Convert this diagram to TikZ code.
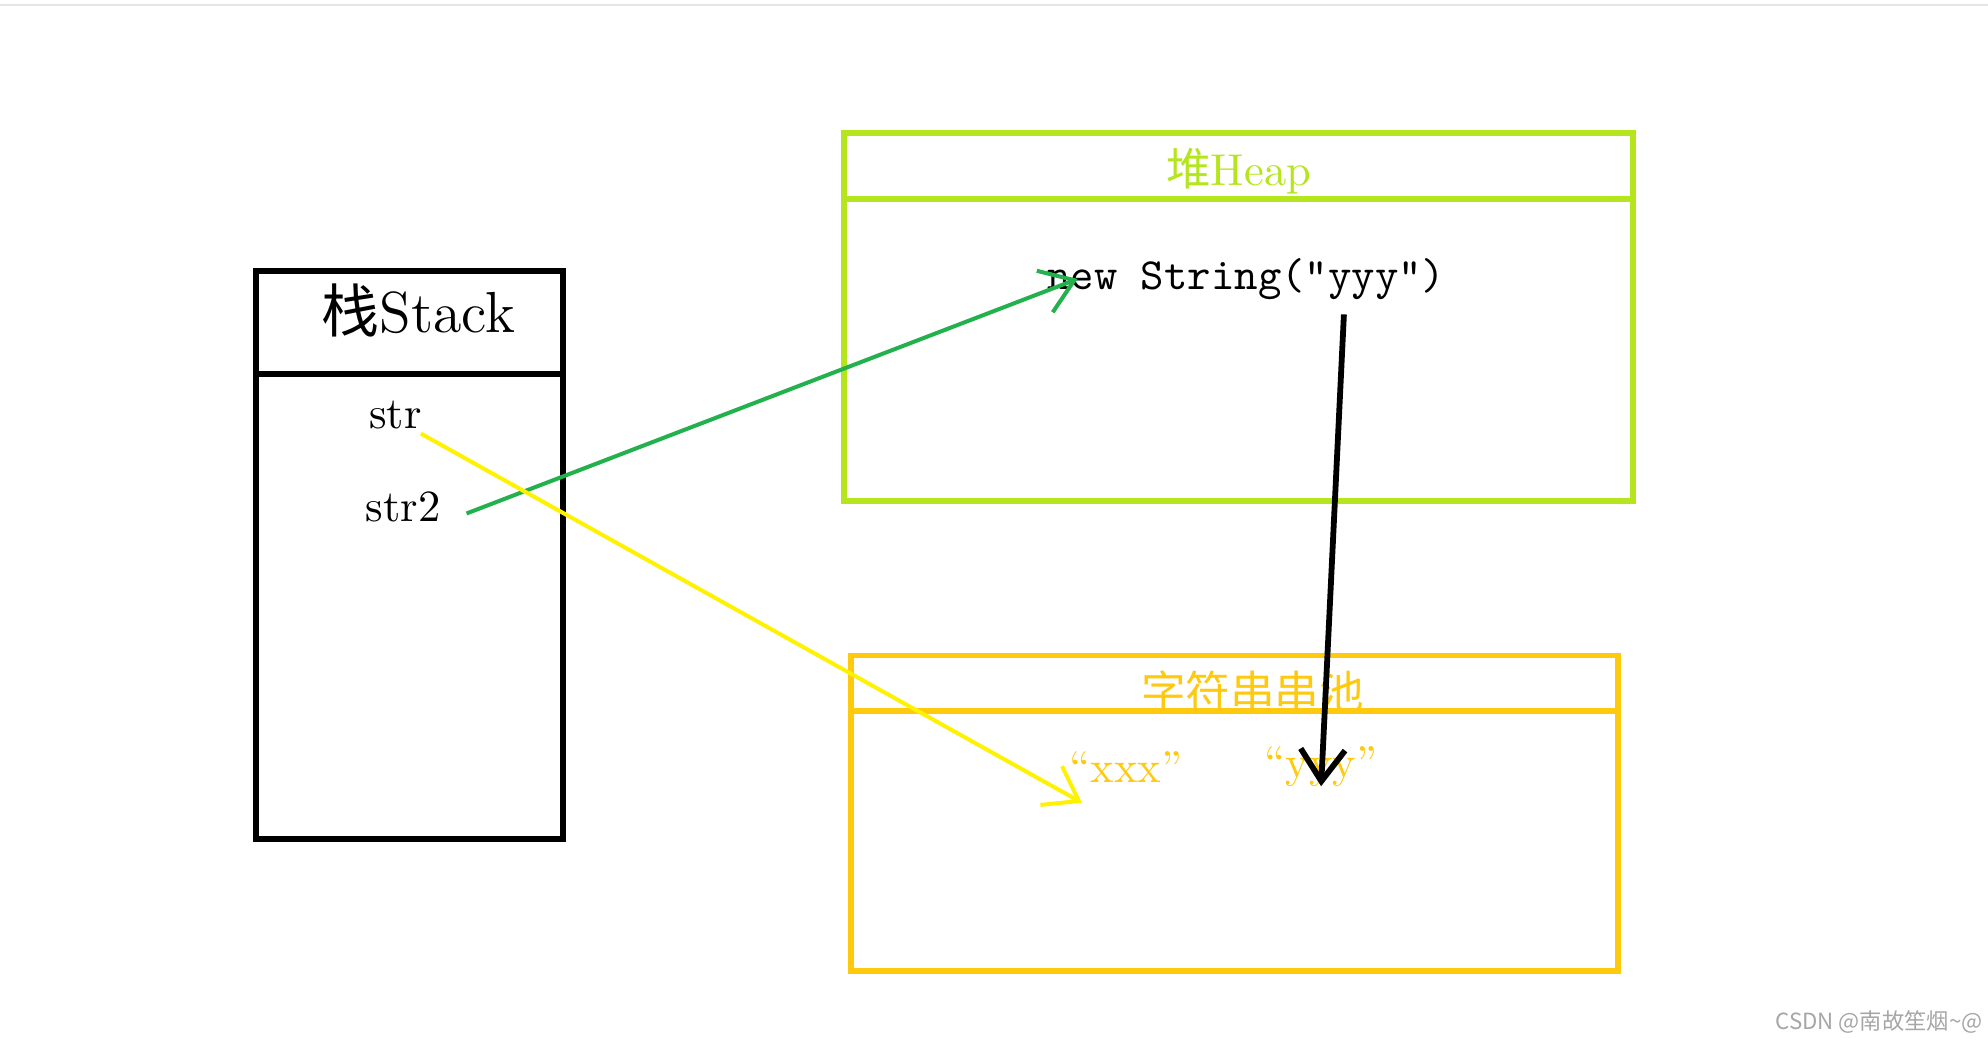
\documentclass[tikz,border=0pt]{standalone}
\usepackage{fontspec}
\newfontfamily\cjk{Noto Sans CJK SC}
\usetikzlibrary{arrows.meta, positioning}
\definecolor{heapgreen}{HTML}{B5E61D}
\definecolor{poolgold}{HTML}{FFC90E}
\definecolor{refgreen}{HTML}{22B14C}
\definecolor{refyellow}{HTML}{FFF200}
\tikzstyle{area} = [line width=1.3pt]
\tikzstyle{label} = [font=\fontsize{10}{12}\selectfont, inner sep=1pt]
\tikzstyle{ref} = [line width=0.9pt, -{Straight Barb[length=2.5mm, width=3.5mm]}]

\begin{document}
\begin{tikzpicture}[x=0.01cm, y=-0.01cm]
    \useasboundingbox (0,0) rectangle (1568,822);
    \draw [gray!20, line width=0.6pt] (0,4) -- (1568,4);

    % Stack.
    \draw [area] (202,214) rectangle (444,662);
    \draw [area] (202,295) -- (444,295);
    \node (stack) [font=\fontsize{13}{15}\selectfont] at (330,245) {{\cjk 栈}Stack};
    \node (str) [label] at (312,327) {str};
    \node (str2) [label] at (318,400) {str2};

    % Heap.
    \draw [area, heapgreen] (666,105) rectangle (1288,395);
    \draw [area, heapgreen] (666,157) -- (1288,157);
    \node (heap) [label, text=heapgreen] at (977,135) {{\cjk 堆}Heap};
    \node (obj) [label, font=\fontsize{10}{12}\ttfamily] at (983,220) {new String("yyy")};

    % Pool.
    \draw [area, poolgold] (671,517) rectangle (1276,766);
    \draw [area, poolgold] (671,561) -- (1276,561);
    \node (pool) [label, text=poolgold, font=\cjk\fontsize{10}{12}\selectfont] at (988,545) {字符串串池};
    \node (xxx) [label, text=poolgold] at (888,605) {“xxx”};
    \node (yyy) [label, text=poolgold] at (1042,605) {“yyy”};

    \node (mark) [font=\cjk\fontsize{5}{6}\selectfont, text=gray!70] at (1482,806) {CSDN @南故笙烟\textasciitilde@};

    % Arrows.
    \coordinate (strend) at (332,342);
    \coordinate (str2end) at (368,405);
    \coordinate (objend) at (1060,248);
    \draw [ref, refgreen] (str2end) -- ([xshift=8] obj.west);
    \draw [ref, refyellow] (strend) -- ([xshift=4, yshift=-8] xxx.west);
    \draw [ref, black, line width=1.3pt] (objend) -- ([yshift=-10] yyy.north);
\end{tikzpicture}
\end{document}
